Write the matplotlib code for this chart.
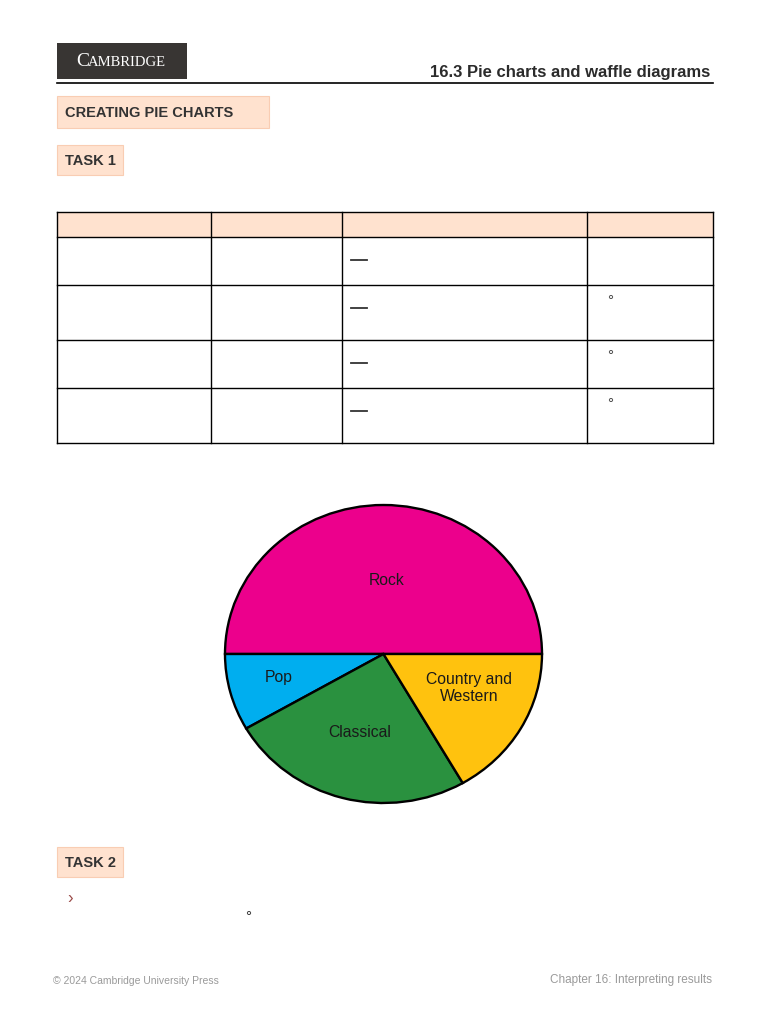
import matplotlib
matplotlib.use('Agg')
import matplotlib.pyplot as plt
from matplotlib.patches import Rectangle

plt.rcParams['font.family'] = ['Liberation Sans', 'DejaVu Sans']

# data: favourite music, angles in degrees
genres = ['Rock', 'Pop', 'Classical', 'Country and\nWestern']
angles = [180, 30, 90, 60]
colors = ['#EC008C', '#00AEEF', '#2A913F', '#FFC20E']

header_title = '16.3 Pie charts and waffle diagrams'
section_title = 'CREATING PIE CHARTS'
task_labels = ['TASK 1', 'TASK 2']
footer_left = '\u00a9 2024 Cambridge University Press'
footer_right = 'Chapter 16: Interpreting results'

# table layout (empty worksheet table)
col_edges = [57, 211, 342, 587, 713]
row_edges = [212, 237, 285, 340, 388, 443]

PEACH = '#FFE2CF'
PEACH_EDGE = '#F9CDB3'

fig = plt.figure(figsize=(7.68, 10.24), dpi=100)
page = fig.add_axes([0, 0, 1, 1])
page.set_xlim(0, 768)
page.set_ylim(1024, 0)
page.axis('off')

# header
page.add_patch(Rectangle((57, 43), 130, 36, facecolor='#383533', edgecolor='none'))
page.text(76, 62, 'C', color='white', fontsize=14, family='Liberation Serif', va='center', ha='left')
page.text(87.5, 62.5, 'AMBRIDGE', color='white', fontsize=10.5, family='Liberation Serif', va='center', ha='left')
page.text(710, 72, header_title, fontsize=12, fontweight='bold', color='#2b2b2b', ha='right', va='center')
page.plot([57, 713], [83, 83], color='black', lw=1.2)

def label_box(x, y, w, h, txt):
    page.add_patch(Rectangle((x, y), w, h, facecolor=PEACH, edgecolor=PEACH_EDGE, lw=0.8))
    page.text(x + 8, y + h / 2 + 1, txt, fontsize=10.5, fontweight='bold', color='#333333',
              ha='left', va='center')

label_box(57, 96, 212, 32, section_title)
label_box(57, 145, 66, 30, task_labels[0])
label_box(57, 847, 66, 30, task_labels[1])

# table
page.add_patch(Rectangle((col_edges[0], row_edges[0]), col_edges[-1] - col_edges[0],
                         row_edges[1] - row_edges[0], facecolor=PEACH, edgecolor='none'))
for x in col_edges:
    page.plot([x, x], [row_edges[0], row_edges[-1]], color='black', lw=1.0)
for y in row_edges:
    page.plot([col_edges[0], col_edges[-1]], [y, y], color='black', lw=1.0)
for i in range(1, len(row_edges) - 1):
    top = row_edges[i]
    mid = top + 23
    page.plot([351, 367], [mid, mid], color='#333333', lw=1.3)
    if i > 1:
        page.text(610, top + 16, '\u00b0', fontsize=11, color='#444444', ha='center', va='center')

# pie chart
pie_ax = fig.add_axes([225 / 768, (1024 - 803) / 1024, 317 / 768, 298 / 1024])
wedges, _ = pie_ax.pie(angles, colors=colors, startangle=0, counterclock=True,
                       wedgeprops=dict(edgecolor='black', linewidth=1.7))
for w in wedges:
    w.set_clip_on(False)
pie_ax.set_aspect('auto')
pie_ax.set_xlim(-1, 1)
pie_ax.set_ylim(-1, 1)
pie_ax.axis('off')

label_pos = [(0.02, 0.49), (-0.66, -0.16), (-0.15, -0.53), (0.54, -0.23)]
for name, (lx, ly) in zip(genres, label_pos):
    pie_ax.text(lx, ly, name, fontsize=11.3, color='#1a1a1a', ha='center', va='center',
                linespacing=1.15)

# task 2 bits
page.text(70, 899, '\u203a', fontsize=12, color='#9a4a48', ha='center', va='center')
page.text(248, 917, '\u00b0', fontsize=11, color='#333333', ha='center', va='center')

# footer
page.text(53, 981, footer_left, fontsize=7.5, color='#9a9a9a', ha='left', va='center')
page.text(712, 980, footer_right, fontsize=8.5, color='#9a9a9a', ha='right', va='center')

fig.savefig('out.png', dpi=100)
